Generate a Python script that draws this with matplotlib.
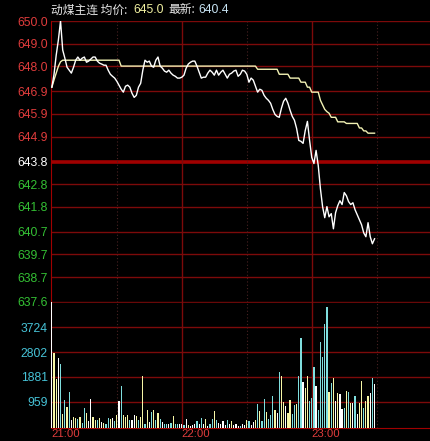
import matplotlib
matplotlib.use('Agg')
import matplotlib.pyplot as plt

# minute bars of the night session, 21:00 onwards
price = [647.08, 647.65, 648.49, 649.16, 650.00, 648.72, 648.36, 647.96, 647.83, 647.70,
         647.96, 648.27, 648.41, 648.27, 648.36, 648.41, 648.18, 648.23, 648.32, 648.41,
         648.41, 648.23, 648.14, 648.10, 648.05, 648.05, 647.83, 647.65, 647.56, 647.48,
         647.34, 647.17, 646.99, 646.86, 647.12, 647.17, 647.08, 646.81, 646.63, 646.72,
         647.08, 647.25, 647.83, 648.27, 648.18, 648.23, 648.01, 647.96, 648.27, 648.41,
         648.01, 647.92, 647.79, 647.74, 647.83, 647.70, 647.61, 647.56, 647.48, 647.48,
         647.52, 647.61, 647.92, 648.10, 648.18, 648.23, 648.23, 648.01, 647.74, 647.48,
         647.52, 647.52, 647.70, 647.83, 647.74, 647.61, 647.83, 647.61, 647.74, 647.83,
         647.65, 647.48, 647.65, 647.70, 647.79, 647.83, 647.56, 647.65, 647.83, 647.79,
         647.65, 647.30, 647.48, 647.39, 647.12, 646.86, 646.99, 646.94, 646.72, 646.59,
         646.50, 646.37, 646.10, 645.88, 645.79, 645.75, 646.15, 646.46, 646.59, 646.37,
         646.06, 645.79, 645.62, 645.26, 644.73, 644.69, 644.60, 645.17, 645.57, 644.73,
         643.98, 643.71, 644.29, 643.62, 642.60, 641.81, 641.32, 641.81, 641.36, 641.50,
         640.83, 641.54, 641.85, 642.07, 641.90, 642.43, 642.29, 642.03, 641.90, 641.98,
         641.67, 641.45, 641.23, 641.01, 640.65, 640.48, 641.10, 640.48, 640.17, 640.39]

avg = [647.08, 647.40, 647.70, 648.00, 648.20, 648.27, 648.27, 648.27, 648.27, 648.27,
       648.27, 648.27, 648.27, 648.27, 648.27, 648.27, 648.27, 648.27, 648.27, 648.27,
       648.27, 648.27, 648.27, 648.27, 648.27, 648.27, 648.27, 648.27, 648.27, 648.27,
       648.27, 648.27, 648.01, 648.01, 648.01, 648.01, 648.01, 648.01, 648.01, 648.01,
       648.01, 648.01, 648.01, 648.01, 648.01, 648.01, 648.01, 648.01, 648.01, 648.01,
       648.01, 648.01, 648.01, 648.01, 648.01, 648.01, 648.01, 648.01, 648.01, 648.01,
       648.01, 648.01, 648.01, 648.01, 648.01, 648.01, 648.01, 648.01, 648.01, 648.01,
       648.01, 648.01, 648.01, 648.01, 648.01, 648.01, 648.01, 648.01, 648.01, 648.01,
       648.01, 648.01, 648.01, 648.01, 648.01, 648.01, 648.01, 648.01, 648.01, 648.01,
       648.01, 648.01, 648.01, 648.01, 648.01, 647.87, 647.87, 647.87, 647.87, 647.87,
       647.87, 647.87, 647.87, 647.87, 647.87, 647.65, 647.65, 647.65, 647.65, 647.65,
       647.48, 647.48, 647.48, 647.48, 647.48, 647.30, 647.30, 647.30, 647.08, 647.08,
       646.86, 646.86, 646.86, 646.86, 646.50, 646.30, 646.10, 646.00, 645.93, 645.75,
       645.75, 645.75, 645.55, 645.55, 645.55, 645.55, 645.48, 645.48, 645.48, 645.48,
       645.48, 645.48, 645.28, 645.28, 645.15, 645.15, 645.05, 645.05, 645.05, 645.05]

vol = [4640, 2770, 1797, 2571, 2350, 505, 1021, 775, 1316, 283,
       406, 381, 344, 406, 185, 738, 553, 258, 1058, 406,
       283, 283, 357, 221, 197, 160, 357, 332, 357, 258,
       467, 996, 1538, 467, 406, 467, 283, 283, 467, 430,
       283, 406, 1906, 160, 652, 209, 578, 652, 283, 541,
       344, 221, 135, 160, 160, 185, 455, 160, 160, 135,
       135, 123, 344, 111, 86, 99, 160, 246, 135, 381,
       135, 320, 62, 135, 332, 615, 283, 185, 135, 258,
       99, 283, 160, 246, 99, 135, 62, 62, 135, 99,
       283, 258, 111, 209, 283, 873, 615, 258, 1058, 590,
       320, 467, 1169, 652, 541, 2055, 1906, 947, 824, 541,
       1021, 529, 836, 873, 1906, 3309, 1685, 1464, 1906, 996,
       1095, 2239, 1538, 652, 3161, 2608, 3825, 4452, 1316, 1648,
       1832, 984, 1279, 1242, 689, 738, 1353, 1316, 910, 910,
       1169, 505, 910, 1722, 726, 984, 1169, 1279, 1832, 1611]

vol_kind = ('wyywcycycw' 'yycyccywwy' 'ycywyccywc' 'ywcyyycwwy' 'cyycywcycy'
            'cwccwcyccw' 'wcwywwwcwc' 'wywccycwww' 'wcwywwwcww' 'ycwwycyccy'
            'cccywcyywy' 'yccyccwyyc' 'ccwcccccyc' 'ywywwcycyw' 'cwyycyywcw')
kind_color = {'w': '#ffffff', 'y': '#f6f6a6', 'c': '#7fdede'}

price_ticks = [650.0, 649.0, 648.0, 646.9, 645.9, 644.9, 643.8,
               642.8, 641.8, 640.7, 639.7, 638.7, 637.6]
prev_close = 643.8
vol_ticks = [959, 1881, 2802, 3724]
time_ticks = [0, 60, 120]
time_labels = ['21:00', '22:00', '23:00']
half_hours = [30, 90, 150]

grid_red = '#7c0a0a'
num_font = 'Liberation Sans'

fig = plt.figure(figsize=(4.3, 4.41), dpi=100, facecolor='black')
ax = fig.add_axes([51/430, 1 - 302/441, 379/430, 281/441], facecolor='black')
axv = fig.add_axes([51/430, 1 - 428/441, 379/430, 126/441], facecolor='black', sharex=ax)

minutes = list(range(len(price)))

# price panel
for t in price_ticks:
    if t == prev_close:
        ax.axhline(t, color='#a00000', lw=2.6, zorder=1)
    else:
        ax.axhline(t, color=grid_red, lw=1, zorder=1)
ax.plot(minutes, avg, color='#f2f2b4', lw=1, zorder=3)
ax.plot(minutes, price, color='white', lw=1, zorder=4)
ax.set_ylim(637.6, 650.0)
ax.set_xlim(-0.4, 174.6)
ax.set_yticks(price_ticks)
ax.set_yticklabels(['%.1f' % t for t in price_ticks], fontsize=8.7, family=num_font)
for lab, t in zip(ax.get_yticklabels(), price_ticks):
    if t > prev_close:
        lab.set_color('#e03c3c')
    elif t < prev_close:
        lab.set_color('#34c034')
    else:
        lab.set_color('white')
ax.tick_params(axis='y', length=0, pad=2.2)
ax.tick_params(axis='x', length=0, labelbottom=False)

# volume panel
for t in vol_ticks:
    axv.axhline(t, color=grid_red, lw=1, zorder=1)
axv.bar(minutes, vol, width=0.55, color=[kind_color[k] for k in vol_kind], lw=0, zorder=3)
axv.set_ylim(0, 4646)
axv.set_yticks(vol_ticks)
axv.set_yticklabels([str(t) for t in vol_ticks], fontsize=8.7, family=num_font, color='#46c2d6')
axv.tick_params(axis='y', length=0, pad=2.2)
axv.set_xticks(time_ticks)
axv.set_xticklabels(time_labels, fontsize=8.2, family=num_font, color='#e03c3c', ha='left')
axv.tick_params(axis='x', length=0, pad=1.0)

for a in (ax, axv):
    for t in time_ticks[1:]:
        a.axvline(t, color=grid_red, lw=1, zorder=1)
    for t in half_hours:
        a.axvline(t, color='#4a2222', lw=0.8, ls=(0, (1, 2)), zorder=1)
    for s in ('top', 'right'):
        a.spines[s].set_visible(False)
    a.spines['left'].set_color('#a00000')
    a.spines['bottom'].set_color('#a00000')
ax.spines['bottom'].set_visible(False)
axv.axhline(4646, color=grid_red, lw=1.2, zorder=1)

# header line
cjk = ['Noto Sans CJK SC', 'DejaVu Sans']
hy = 1 - 10/441
fig.text(51/430, hy, '动煤主连 均价:', color='#e6e6e6', fontsize=8.5, family=cjk, va='center')
fig.text(133/430, hy, '645.0', color='#f0f0a0', fontsize=8.7, family=num_font, va='center')
fig.text(168/430, hy, '最新:', color='#e6e6e6', fontsize=8.5, family=cjk, va='center')
fig.text(198/430, hy, '640.4', color='#c6e2f2', fontsize=8.7, family=num_font, va='center')

fig.savefig('out.png', dpi=100, facecolor='black')
